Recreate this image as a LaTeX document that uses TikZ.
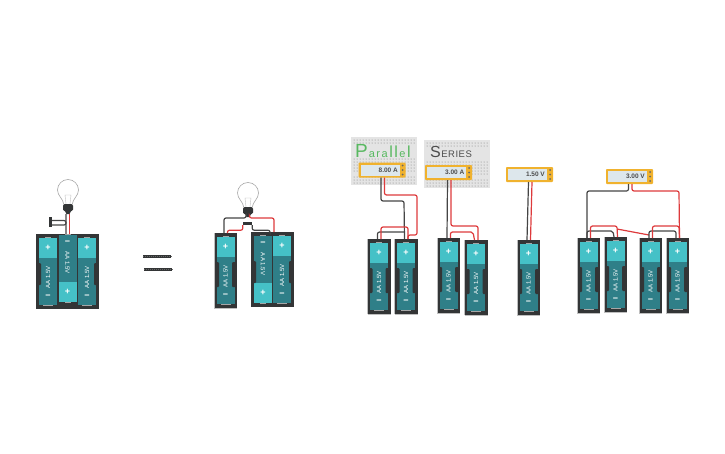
\documentclass[tikz,border=0pt]{standalone}
\usepackage{fontspec}
\setmainfont{Liberation Sans}
\usetikzlibrary{positioning}

\definecolor{holderc}{HTML}{333536}
\definecolor{cellc}{HTML}{2F7F88}
\definecolor{capc}{HTML}{45C1C7}
\definecolor{boardc}{HTML}{E4E4E4}
\definecolor{holec}{HTML}{7A7A7A}
\definecolor{meterc}{HTML}{F0B22E}
\definecolor{screenc}{HTML}{DDE7EC}
\definecolor{blkc}{HTML}{454545}
\definecolor{redc}{HTML}{DD3A3C}
\definecolor{titlec}{HTML}{58B860}

\tikzset{
  blkwire/.style={draw=blkc,line width=1.2pt,rounded corners=2pt},
  redwire/.style={draw=redc,line width=1.2pt,rounded corners=2pt},
  celltext/.style={text=white,font=\fontsize{6}{6}\selectfont,inner sep=0pt},
  sign/.style={text=white,font=\fontsize{9}{9}\selectfont\bfseries,inner sep=0pt},
  readout/.style={text=black!70,font=\fontsize{6.5}{6.5}\selectfont\bfseries,inner sep=0pt,anchor=east},
  notch/.style={fill=holderc,rounded corners=1pt},
  % one cell, plus end at the top: 18 wide, 67 long
  pics/cellup/.style={code={
    \fill[cellc] (0,0) rectangle (18,67);
    \fill[capc] (0,0) rectangle (18,20);
    \fill[black!35] (6,-1) rectangle (12,0);
    \fill[black!35] (4,67) rectangle (14,68);
    \node[sign] (-plus) at (9,10) {+};
    \node[sign] (-minus) at (9,59) {\textminus};
    \node[celltext,rotate=90] (-text) at (9,39) {AA 1.5V};
  }},
  % the same cell the other way round
  pics/celldown/.style={code={
    \fill[cellc] (0,0) rectangle (18,67);
    \fill[capc] (0,47) rectangle (18,67);
    \fill[black!35] (6,-1) rectangle (12,0);
    \fill[black!35] (6,67) rectangle (12,68);
    \node[sign] (-plus) at (9,57) {+};
    \node[sign] (-minus) at (9,8) {\textminus};
    \node[celltext,rotate=270] (-text) at (9,28) {AA 1.5V};
  }},
  % holder with one cell
  pics/holder/.style={code={
    \fill[holderc] (0,0) rectangle (23,75);
    \draw[black!25,line width=.5pt] (0,75) -- (23,75) (0,0) -- (0,75);
    \pic (-c) at (2.5,4) {cellup};
    \path[notch] (1,29) rectangle (5,54);
    \path[notch] (18,29) rectangle (22,54);
    \coordinate (-blk) at (10,0);
    \coordinate (-red) at (13.5,0);
  }},
  % bulb, base at the bottom
  pics/bulb/.style={code={
    \draw[black!35,fill=white,line width=.6pt] (-4,15) .. controls (-5,8) and (-10.5,6) .. (-10.5,0)
      arc[start angle=180,end angle=360,radius=10.5] .. controls (10.5,6) and (5,8) .. (4,15) -- cycle;
    \draw[black!25,line width=.4pt] (-2,14) -- (-3,5) -- (3,5) -- (2,14);
    \fill[holderc,rounded corners=1.5pt] (-5,14) rectangle (5,21);
    \fill[holderc] (-3,21) -- (3,21) -- (1.5,24) -- (-1.5,24) -- cycle;
    \coordinate (-blk) at (-2,24);
    \coordinate (-red) at (1.5,24);
  }},
  % board with holes, 66 by 48
  pics/board/.style={code={
    \fill[boardc] (0,0) rectangle (66,48);
    \foreach \xx in {3,6,...,63} {
      \foreach \yy in {3,6,40,43,46} {
        \fill[holec] (\xx,\yy) circle (.5);
      }
    }
    \foreach \xx in {3,6,...,63} {
      \foreach \yy in {22,25,28,31,34} {
        \fill[holec] (\xx,\yy) circle (.5);
      }
    }
  }},
  % meter, 47 by 15
  pics/meter/.style={code={
    \fill[meterc,rounded corners=.8pt] (0,0) rectangle (47,15);
    \fill[screenc] (2,2) rectangle (41,13);
    \fill[black!60] (44,3) circle (1);
    \fill[black!60] (44,7.5) circle (1);
    \fill[black!60] (44,12) circle (1);
    \coordinate (-blk) at (22.5,15);
    \coordinate (-red) at (26,15);
  }},
}

\begin{document}
\begin{tikzpicture}[x=1pt,y=-1pt]
\useasboundingbox (0,0) rectangle (725,453);

% three cells in one holder
\fill[holderc] (36,234) rectangle (99,309);
\pic (a1) at (39,238) {cellup};
\pic (a2) at (58.5,234.5) {celldown};
\pic (a3) at (78,238) {cellup};
\path[notch] (37,263) rectangle (41,285);
\path[notch] (94,263) rectangle (98,285);
\coordinate (ablk) at (66,234);
\coordinate (ared) at (69,234);
\pic (bulba) at (68,190) {bulb};
\node[fill=holderc,minimum width=3pt,minimum height=10pt,inner sep=0pt] (swa) at (50.5,222) {};
\draw[blkwire] (bulba-blk) |- ([yshift=-3pt]swa.east);
\draw[blkwire] ([yshift=1.5pt]swa.east) -| (ablk);
\draw[redwire] (bulba-red) -- (bulba-red |- ared);

% the equals sign
\node[fill=holderc,minimum width=28pt,minimum height=3pt,inner sep=0pt] (eqa) at (157,256.5) {};
\node[fill=holderc,minimum width=28pt,minimum height=3pt,inner sep=0pt] (eqb) at (158,269.5) {};
\draw[black!60,line width=1pt,dash pattern=on .8pt off 1.2pt] (eqa.west) -- (eqa.east);
\draw[black!60,line width=1pt,dash pattern=on .8pt off 1.2pt] (eqb.west) -- (eqb.east);

% same thing, split in two holders
\pic (b1) at (214,233) {holder};
\fill[holderc] (251,232) rectangle (294,307);
\pic (b2) at (254,236) {celldown};
\pic (b3) at (273,236) {cellup};
\path[notch] (252,261) rectangle (256,283);
\path[notch] (289,261) rectangle (293,283);
\coordinate (b2blk) at (270,232);
\coordinate (b2red) at (274,232);
\pic (bulbb) at (248,193) {bulb};
\node[fill=holderc,minimum width=9pt,minimum height=3pt,inner sep=0pt] (swb) at (247.5,223.5) {};
\draw[blkwire] (bulbb-blk) -- ++(0,1) -| (b1-blk);
\draw[redwire] (bulbb-red) -- ++(0,1) -| (b2red);
\draw[redwire] (swb.south west) -- ++(0,5) -| (b1-red);
\draw[blkwire] (swb.south east) -- ++(0,5) -| (b2blk);

% parallel
\pic (bp) at (351,137) {board};
\node[text=titlec,font=\fontsize{11}{11}\selectfont,anchor=base west,inner sep=0pt] (ptitle) at (355,157) {{\fontsize{19}{19}\selectfont P}\kern1pt a\kern1.5pt r\kern1.5pt a\kern1.5pt {\fontsize{16}{16}\selectfont l\kern1.5pt l}\kern1.5pt e\kern1.5pt {\fontsize{16}{16}\selectfont l}};
\pic (mp) at (358.5,162.5) {meter};
\node[readout] (mptext) at (398,170) {8.00 A};
\pic (p1) at (367.5,239) {holder};
\pic (p2) at (394.5,239) {holder};
\draw[blkwire] (mp-blk) |- (404,201) -- (p2-blk);
\draw[redwire] (mp-red) |- (417,195) |- (408,235) -- (p2-red);
\draw[blkwire] (p1-blk) |- (404,232);
\draw[redwire] (p1-red) |- (408,227) -- (p2-red);

% series
\pic (bs) at (424,140) {board};
\node[text=black!70,font=\fontsize{9.5}{9.5}\selectfont,anchor=base west,inner sep=0pt] (stitle) at (430,157) {{\fontsize{16}{16}\selectfont S}\kern.5pt E\kern.5pt R\kern.5pt I\kern.5pt E\kern.5pt S};
\pic (ms) at (425,165) {meter};
\node[readout] (mstext) at (464.5,172.5) {3.00 A};
\pic (s1) at (437,238) {holder};
\pic (s2) at (464.5,240) {holder};
\draw[blkwire] (ms-blk) -- (s1-blk);
\draw[redwire] (ms-red) |- (478,226) -- (s2-red);
\draw[redwire] (s1-red) |- (473,232) -- (s2-blk);

% one cell
\pic (m1) at (506,167) {meter};
\node[readout] (m1text) at (545,174.5) {1.50 V};
\pic (c1) at (517,240) {holder};
\draw[blkwire] (m1-blk) -- (c1-blk);
\draw[redwire] (m1-red) -- (c1-red);

% four cells
\pic (m2) at (606,169) {meter};
\node[readout] (m2text) at (645,176.5) {3.00 V};
\pic (d1) at (577,238) {holder};
\pic (d2) at (604,237) {holder};
\pic (d3) at (639,238) {holder};
\pic (d4) at (666,238) {holder};
\draw[blkwire] (m2-blk) |- (587,191) -- (d1-blk);
\draw[redwire] (m2-red) |- (679,191) -- (d4-red);
\draw[blkwire] (d1-blk) |- (613,231) -- (d2-blk);
\draw[redwire] (d1-red) |- (617,226) -- (d2-red);
\draw[redwire] (617,229) -- (649,235);
\draw[blkwire] (d3-blk) |- (676,231) -- (d4-blk);
\draw[redwire] (d3-red) |- (679,226) -- (d4-red);

\end{tikzpicture}
\end{document}
